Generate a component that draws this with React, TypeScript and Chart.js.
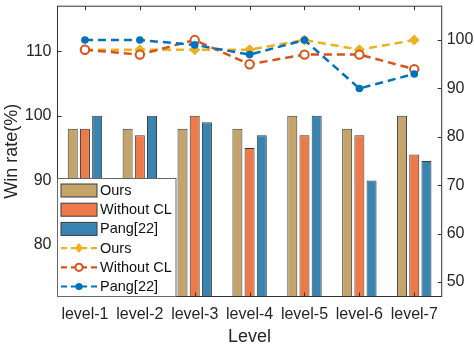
import React, { useEffect, useRef } from 'react';
import { Chart, registerables } from 'chart.js';

Chart.register(...registerables);

const categories = ['level-1', 'level-2', 'level-3', 'level-4', 'level-5', 'level-6', 'level-7'];
const barOurs = [98, 98, 98, 98, 100, 98, 100];
const barWithoutCL = [98, 97, 100, 95, 97, 97, 94];
const barPang = [100, 100, 99, 97, 100, 90, 93];
const lineOurs = [98, 98, 98, 98, 100, 98, 100];
const lineWithoutCL = [98, 97, 100, 95, 97, 97, 94];
const linePang = [100, 100, 99, 97, 100, 90, 93];
const leftTicks = [80, 90, 100, 110];
const rightTicks = [50, 60, 70, 80, 90, 100];
const legendLabels = ['Ours', 'Without CL', 'Pang[22]', 'Ours', 'Without CL', 'Pang[22]'];

const FONT = '"Liberation Sans", Arial, Helvetica, sans-serif';
const TXT = '#262626';
const C_BAR = ['#C4A46B', '#EE7A4A', '#3A84B2'];
const C_LINE = ['#EDB120', '#D95319', '#0072BD'];
const EDGE = '#3a3a3a';

function drawMarker(ctx: CanvasRenderingContext2D, kind: number, x: number, y: number) {
  ctx.save();
  ctx.setLineDash([]);
  if (kind === 0) {
    const r = 5;
    ctx.beginPath();
    ctx.moveTo(x, y - r);
    ctx.lineTo(x + r * 0.8, y);
    ctx.lineTo(x, y + r);
    ctx.lineTo(x - r * 0.8, y);
    ctx.closePath();
    ctx.fillStyle = C_LINE[0];
    ctx.fill();
  } else if (kind === 1) {
    ctx.beginPath();
    ctx.arc(x, y, 3.6, 0, Math.PI * 2);
    ctx.fillStyle = '#fff';
    ctx.fill();
    ctx.lineWidth = 2;
    ctx.strokeStyle = C_LINE[1];
    ctx.stroke();
  } else {
    ctx.beginPath();
    ctx.arc(x, y, 3.6, 0, Math.PI * 2);
    ctx.fillStyle = C_LINE[2];
    ctx.fill();
  }
  ctx.restore();
}

const framePlugin = {
  id: 'frame',
  afterDatasetsDraw(chart: any) {
    const { ctx, chartArea: a, scales } = chart;
    ctx.save();
    // axes box
    ctx.strokeStyle = '#333';
    ctx.lineWidth = 1;
    ctx.setLineDash([]);
    ctx.strokeRect(a.left, a.top, a.right - a.left, a.bottom - a.top);
    // inward ticks
    ctx.beginPath();
    leftTicks.forEach((v) => {
      const y = Math.round(scales.yL.getPixelForValue(v)) + 0.5;
      ctx.moveTo(a.left, y);
      ctx.lineTo(a.left + 4, y);
    });
    rightTicks.forEach((v) => {
      const y = Math.round(scales.yR.getPixelForValue(v)) + 0.5;
      ctx.moveTo(a.right, y);
      ctx.lineTo(a.right - 4, y);
    });
    categories.forEach((_, i) => {
      const x = Math.round(scales.x.getPixelForValue(i)) + 0.5;
      ctx.moveTo(x, a.top);
      ctx.lineTo(x, a.top + 4);
      ctx.moveTo(x, a.bottom);
      ctx.lineTo(x, a.bottom - 4);
    });
    ctx.stroke();

    // legend
    const LX = a.left, LY = 178.5, LW = 118.5, LH = a.bottom - 178.5;
    ctx.fillStyle = '#fff';
    ctx.fillRect(LX, LY, LW, LH);
    ctx.strokeStyle = '#666';
    ctx.strokeRect(LX, LY, LW, LH);
    ctx.font = `14.5px ${FONT}`;
    ctx.textBaseline = 'middle';
    ctx.textAlign = 'left';
    legendLabels.forEach((lab, i) => {
      const y = 190.5 + i * 19.2;
      if (i < 3) {
        ctx.fillStyle = C_BAR[i];
        ctx.fillRect(61, y - 6.5, 36, 13);
        ctx.strokeStyle = EDGE;
        ctx.lineWidth = 1;
        ctx.strokeRect(61, y - 6.5, 36, 13);
      } else {
        const k = i - 3;
        ctx.strokeStyle = C_LINE[k];
        ctx.lineWidth = 2.2;
        ctx.setLineDash([6, 4]);
        ctx.beginPath();
        ctx.moveTo(61, y);
        ctx.lineTo(98, y);
        ctx.stroke();
        ctx.setLineDash([]);
        drawMarker(ctx, k, 79, y);
      }
      ctx.fillStyle = '#111';
      ctx.fillText(lab, 100, y + 0.5);
    });
    ctx.restore();
  },
};

export default function App() {
  const ref = useRef<HTMLCanvasElement | null>(null);
  useEffect(() => {
    if (!ref.current) return;
    const tickFont = { family: FONT, size: 16 };
    const titleFont = { family: FONT, size: 18 };
    const chart = new Chart(ref.current, {
      type: 'bar',
      data: {
        labels: categories,
        datasets: [
          { type: 'line', label: 'Ours', data: lineOurs, yAxisID: 'yR', order: 2, borderColor: C_LINE[0], backgroundColor: C_LINE[0], borderWidth: 2.5, borderDash: [8, 5], pointStyle: 'rectRot', pointRadius: 5, pointBackgroundColor: C_LINE[0], pointBorderColor: C_LINE[0], pointBorderWidth: 1, fill: false, tension: 0 } as any,
          { type: 'line', label: 'Without CL', data: lineWithoutCL, yAxisID: 'yR', order: 1, borderColor: C_LINE[1], backgroundColor: '#fff', borderWidth: 2.5, borderDash: [8, 5], pointStyle: 'circle', pointRadius: 4.2, pointBackgroundColor: '#fff', pointBorderColor: C_LINE[1], pointBorderWidth: 2, fill: false, tension: 0 } as any,
          { type: 'line', label: 'Pang[22]', data: linePang, yAxisID: 'yR', order: 0, borderColor: C_LINE[2], backgroundColor: C_LINE[2], borderWidth: 2.5, borderDash: [8, 5], pointStyle: 'circle', pointRadius: 3.8, pointBackgroundColor: C_LINE[2], pointBorderColor: C_LINE[2], pointBorderWidth: 0, fill: false, tension: 0 } as any,
          { type: 'bar', label: 'Ours', data: barOurs, yAxisID: 'yL', order: 5, backgroundColor: C_BAR[0], borderColor: EDGE, borderWidth: 1, categoryPercentage: 0.667, barPercentage: 0.82 } as any,
          { type: 'bar', label: 'Without CL', data: barWithoutCL, yAxisID: 'yL', order: 5, backgroundColor: C_BAR[1], borderColor: EDGE, borderWidth: 1, categoryPercentage: 0.667, barPercentage: 0.82 } as any,
          { type: 'bar', label: 'Pang[22]', data: barPang, yAxisID: 'yL', order: 5, backgroundColor: C_BAR[2], borderColor: EDGE, borderWidth: 1, categoryPercentage: 0.667, barPercentage: 0.82 } as any,
        ],
      },
      options: {
        animation: false,
        responsive: true,
        maintainAspectRatio: false,
        layout: { padding: { top: 5.7, left: 0, right: 0, bottom: 0 } },
        plugins: { legend: { display: false }, tooltip: { enabled: false } },
        scales: {
          x: {
            type: 'category',
            offset: true,
            grid: { display: false, drawTicks: false },
            border: { display: false },
            ticks: { font: tickFont, color: TXT, padding: 8, maxRotation: 0, autoSkip: false },
            title: { display: true, text: 'Level', font: titleFont, color: TXT, padding: { top: 0, bottom: 0 } },
            afterFit: (s: any) => { s.height = 51.5; s.paddingLeft = 0; s.paddingRight = 0; },
          },
          yL: {
            type: 'linear',
            position: 'left',
            min: 72,
            max: 117,
            grid: { display: false, drawTicks: false },
            border: { display: false },
            afterBuildTicks: (s: any) => { s.ticks = leftTicks.map((v) => ({ value: v })); },
            ticks: { font: tickFont, color: TXT, padding: 6 },
            title: { display: true, text: 'Win rate(%)', font: titleFont, color: TXT, padding: { top: 1, bottom: 0 } },
            afterFit: (s: any) => { s.width = 57.5; s.paddingTop = 0; s.paddingBottom = 0; },
          },
          yR: {
            type: 'linear',
            position: 'right',
            min: 47,
            max: 107,
            grid: { display: false, drawTicks: false },
            border: { display: false },
            afterBuildTicks: (s: any) => { s.ticks = rightTicks.map((v) => ({ value: v })); },
            ticks: { font: tickFont, color: TXT, padding: 5 },
            afterFit: (s: any) => { s.width = 32.3; s.paddingTop = 0; s.paddingBottom = 0; },
          },
        },
      },
      plugins: [framePlugin],
    });
    return () => chart.destroy();
  }, []);
  return (
    <div style={{ position: 'absolute', left: 0, top: 0, width: 474, height: 348, background: '#fff' }}>
      <canvas ref={ref} />
    </div>
  );
}
